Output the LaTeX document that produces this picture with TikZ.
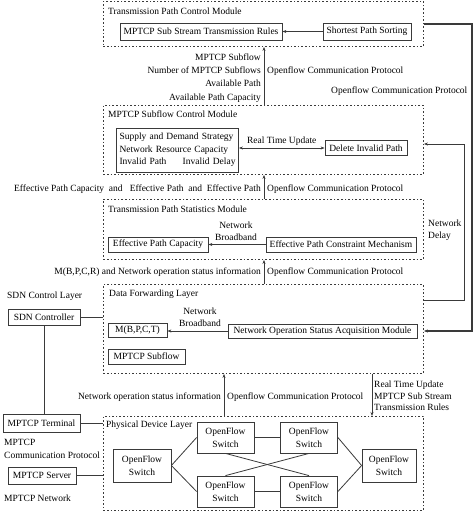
\documentclass[tikz,border=0pt]{standalone}
\usepackage{fontspec}
\setmainfont{Liberation Serif}
\usetikzlibrary{arrows.meta}
\definecolor{ln}{HTML}{3A3A3A}
\begin{document}
\begin{tikzpicture}[x=1pt,y=-1pt,
  every node/.style={font=\fontsize{9.5}{12.5}\selectfont, text=black, inner sep=0pt},
  module/.style={draw=ln, line width=0.9pt, dash pattern=on 1.6pt off 2pt, anchor=north west},
  box/.style={draw=ln, line width=0.8pt, minimum height=15pt, align=center},
  sw/.style={draw=ln, line width=0.8pt, minimum width=57pt, minimum height=31pt, align=center},
  conn/.style={draw=ln, line width=0.8pt},
  arr/.style={conn, -{Stealth[length=4pt,width=3pt]}},
  darr/.style={conn, {Stealth[length=4pt,width=3pt]}-{Stealth[length=4pt,width=3pt]}},
  ttl/.style={anchor=west},
  lbl/.style={anchor=west, align=left},
  rlbl/.style={anchor=east, align=right}]
\useasboundingbox (0,0) rectangle (474,513);

% modules
\node[module, minimum width=320pt, minimum height=45pt] (m1) at (103,1) {};
\node[module, minimum width=320pt, minimum height=69pt] (m2) at (103,105) {};
\node[module, minimum width=320pt, minimum height=60pt] (m3) at (103,199) {};
\node[module, minimum width=320pt, minimum height=89pt] (m4) at (103,284) {};
\node[module, minimum width=320pt, minimum height=94pt] (m5) at (103,416) {};

% titles
\node[ttl] (t1) at (108,11) {Transmission Path Control Module};
\node[ttl] (t2) at (108,114) {MPTCP Subflow Control Module};
\node[ttl] (t3) at (108,209) {Transmission Path Statistics Module};
\node[ttl] (t4) at (109,294) {Data Forwarding Layer};
\node[ttl] (t5) at (106,425) {Physical Device Layer};

% module 1
\node[box, minimum width=162pt, minimum height=17pt] (rules) at (201,31.5) {MPTCP Sub Stream Transmission Rules};
\node[box, minimum width=88pt, minimum height=17pt] (sps) at (367,31.5) {Shortest Path Sorting};
\draw[arr] (sps.west) -- (rules.east);

% module 2
\node[box, minimum width=122pt, minimum height=44pt, text width=116pt, align=left] (sds) at (177.5,150)
  {Supply and Demand Strategy\\Network Resource Capacity\\Invalid Path\hskip 0pt plus 1fill Invalid Delay};
\node[box, minimum width=82pt] (dip) at (366,148) {Delete Invalid Path};
\draw[darr] (sds.east |- dip.west) -- node[above=2pt] (rtu) {Real Time Update} (dip.west);

% module 3
\node[box, minimum width=100pt] (epc) at (158,244.5) {Effective Path Capacity};
\node[box, minimum width=150pt] (epcm) at (341,244.5) {Effective Path Constraint Mechanism};
\draw[arr] (epcm.west) -- (epc.east);
\node[align=center] (nb1) at (236,231) {Network\\Broadband};

% module 4
\node[box, minimum width=59pt, minimum height=14pt] (mbpct) at (137.5,330.5) {M(B,P,C,T)};
\node[box, minimum width=189pt, minimum height=14pt] (nosam) at (322.5,331) {Network Operation Status Acquisition Module};
\node[box, minimum width=77pt] (msub) at (146.5,356.5) {MPTCP Subflow};
\draw[arr] (nosam.west) -- (mbpct.east |- nosam.west);
\node[align=center] (nb2) at (200,317) {Network\\Broadband};

% module 5 switches
\node[sw] (tl) at (225.5,437.5) {OpenFlow\\Switch};
\node[sw] (tr) at (309,437.5) {OpenFlow\\Switch};
\node[sw, minimum width=58pt, minimum height=33pt] (sl) at (142,465.5) {OpenFlow\\Switch};
\node[sw] (bl) at (225.5,491.5) {OpenFlow\\Switch};
\node[sw] (br) at (309,491.5) {OpenFlow\\Switch};
\node[sw, minimum width=54pt, minimum height=33pt] (sr) at (389,465.5) {OpenFlow\\Switch};
\draw[conn] (sl.east) -- (tl.west);
\draw[conn] (sl.east) -- (bl.west);
\draw[conn] (tl.east) -- (tr.west);
\draw[conn] (bl.east) -- (br.west);
\draw[conn] (tl.south) -- (br.north);
\draw[conn] (tr.south) -- (bl.north);
\draw[conn] (tr.east) -- (sr.west);
\draw[conn] (br.east) -- (sr.west);

% left column
\node[ttl] (sdnl) at (7,296) {SDN Control Layer};
\node[box, minimum width=72pt, minimum height=16pt] (sdn) at (44,317) {SDN Controller};
\node[box, minimum width=77pt, minimum height=18pt] (term) at (41.5,423) {MPTCP Terminal};
\node[lbl] (mcp) at (4,449) {MPTCP\\Communication Protocol};
\node[box, minimum width=68pt, minimum height=17pt] (srv) at (42,475.5) {MPTCP Server};
\node[ttl] (mnet) at (4,498) {MPTCP Network};
\draw[conn] (sdn.east) -- (m4.west |- sdn.east);
\draw[conn] (sdn.south) -- (sdn.south |- term.north);
\draw[conn] (term.east) -- (m5.west |- term.east);
\draw[conn] (srv.east) -- (m5.west |- srv.east);

% vertical inter-module arrows
\coordinate (ca) at (264,0);
\coordinate (cb) at (224,0);
\coordinate (cc) at (372,0);
\draw[arr] (ca |- m2.north) -- (ca |- m1.south);
\draw[arr] (ca |- m3.north) -- (ca |- m2.south);
\draw[arr] (ca |- m4.north) -- (ca |- m3.south);
\draw[arr] (cb |- m5.north) -- (cb |- m4.south);
\draw[arr] (cc |- m4.south) -- (cc |- m5.north);

% labels of inter-module arrows
\node[rlbl, font=\fontsize{9.5}{13.3}\selectfont] (l1) at (261,78) {MPTCP Subflow\\Number of MPTCP Subflows\\Available Path\\Available Path Capacity};
\node[lbl] (o1) at (267,71) {Openflow Communication Protocol};
\node[rlbl] (l2) at (261,189) {Effective Path Capacity\ \ and\ \ \ Effective Path\ \ and\ \ Effective Path};
\node[lbl] (o2) at (267,189) {Openflow Communication Protocol};
\node[rlbl] (l3) at (261,272) {M(B,P,C,R) and Network operation status information};
\node[lbl] (o3) at (267,272) {Openflow Communication Protocol};
\node[rlbl] (l4) at (221,397) {Network operation status information};
\node[lbl] (o4) at (227,397) {Openflow Communication Protocol};
\node[lbl, font=\fontsize{9.5}{11.5}\selectfont] (l5) at (374,396) {Real Time Update\\MPTCP Sub Stream\\Transmission Rules};

% right side feedback lines
\coordinate (ro) at (472,0);
\coordinate (ri) at (464,300);
\coordinate (rt) at (464,144);
\draw[arr, line width=1.3pt] (m1.east) -- (m1.east -| ro) -- (ro |- nosam.east) -- (m4.east |- nosam.east);
\draw[arr] (m4.east |- ri) -- (ri) -- (rt) -- (m2.east |- rt);
\node[lbl] (o5) at (331,91) {Openflow Communication Protocol};
\node[lbl] (nd) at (428,230) {Network\\Delay};
\end{tikzpicture}
\end{document}
